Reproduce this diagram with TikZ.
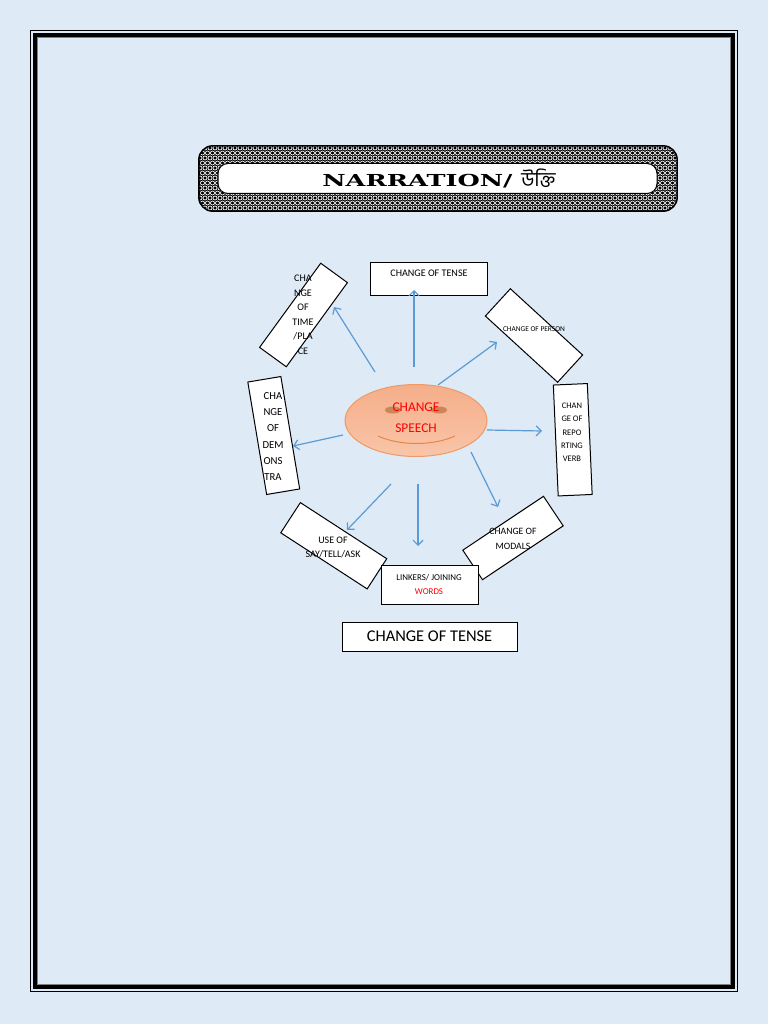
\documentclass[tikz,border=0pt]{standalone}
\usepackage{fontspec}
\setmainfont{Carlito}
\newfontfamily\titlefont[FakeStretch=1.55]{DejaVu Serif}
\newfontfamily\bengfont[Script=Bengali]{Hind Siliguri}
\newcommand{\fsz}[2]{\fontsize{#1}{#2}\selectfont}
\usetikzlibrary{shapes.geometric,arrows.meta}

\begin{document}
\begin{tikzpicture}[x=1pt,y=-1pt,
  box/.style={draw=black,fill=white,line width=1pt,inner sep=0pt},
  lbl/.style={inner sep=0pt,align=center,text=black},
  spoke/.style={draw=arrowblue,line width=1.2pt,-{Straight Barb[length=5pt,width=10pt]}}]
\definecolor{pagebg}{HTML}{DEEAF6}
\definecolor{arrowblue}{HTML}{5B9BD5}
\definecolor{facetop}{HTML}{F5AE8A}
\definecolor{facebot}{HTML}{F9C5A8}
\definecolor{facering}{HTML}{EE9A66}
\definecolor{eyebrown}{HTML}{C07A4A}
\definecolor{smileline}{HTML}{E5874A}
\fill[pagebg] (0,0) rectangle (768,1024);
\useasboundingbox (0,0) rectangle (768,1024);
\draw[line width=1pt] (30.5,30.5) rectangle (737.5,991.5);
\draw[line width=4pt] (34.7,34.7) rectangle (733.3,987.3);
\draw[gray,line width=0.8pt] (37.3,37.3) rectangle (730.7,984.7);

\node[fill=black,rounded corners=14pt,minimum width=478,minimum height=65,inner sep=0pt] (banner) at (438,178.5) {};
\begin{scope}
\clip[rounded corners=14pt] (banner.south west) rectangle (banner.north east);
\foreach \i in {0,...,96}
  {\foreach \j in {0,...,13}
    {\draw[white,line width=0.7pt] ({200+5*\i+2.5*mod(\j,2)},{148+5*\j}) circle (2);}}
\end{scope}
\draw[line width=1.5pt,rounded corners=14pt] (banner.south west) rectangle (banner.north east);
\node[fill=white,draw=black,line width=1pt,rounded corners=10pt,minimum width=439,minimum height=30,inner sep=0pt] (titlebox) at (437.5,178.5) {};
\node[inner sep=0pt] (title) at (439,178) {{\titlefont\bfseries\fsz{16.5}{20}NARRATION/ }{\bengfont\fsz{20}{20}উক্তি}};

\foreach \nm/\px/\py/\w/\h/\r in {tensebox/428.5/278.5/117/33/0, personbox/534/335.5/98/37/-42.5,
  timebox/303.5/315/104/33/54, demobox/273.75/435.5/33.5/114/9.5, verbbox/572.75/439.75/34/111/2.5,
  saybox/333.75/545.75/103/36/-33, modalbox/513/538/97/35.5/33.7, linkbox/429.5/584.5/97/39/0}
  {\node[box,minimum width=\w,minimum height=\h,rotate=\r] (\nm) at (\px,\py) {};}

\node[lbl,font=\fsz{10.1}{12}] (tensetxt) at (429,273) {CHANGE OF TENSE};
\node[lbl,font=\fsz{7.4}{9}] (persontxt) at (534,329) {CHANGE OF PERSON};
\node[lbl,font=\fsz{10.1}{14.5}] (timetxt) at (303,315) {CHA\\NGE\\OF\\TIME\\/PLA\\CE};
\node[lbl,font=\fsz{10.7}{16.2}] (demotxt) at (273,436.5) {CHA\\NGE\\OF\\DEM\\ONS\\TRA};
\node[lbl,font=\fsz{8.5}{13.3}] (verbtxt) at (572,432.5) {CHAN\\GE OF\\REPO\\RTING\\VERB};
\node[lbl,font=\fsz{10}{14}] (saytxt) at (333,547) {USE OF\\SAY/TELL/ASK};
\node[lbl,font=\fsz{9.7}{14.5}] (modaltxt) at (513,539) {CHANGE OF\\MODALS};
\node[lbl,font=\fsz{8.9}{14}] (linktxt) at (429,584) {LINKERS/ JOINING\\\textcolor{red}{WORDS}};

\node[ellipse,draw=facering,line width=1pt,top color=facetop,bottom color=facebot,minimum width=142,minimum height=72,inner sep=0pt] (speech) at (416,420.5) {};
\node[ellipse,fill=eyebrown,fill opacity=0.8,minimum width=16,minimum height=7,inner sep=0pt] (leye) at (393,410) {};
\node[ellipse,fill=eyebrown,fill opacity=0.8,minimum width=16,minimum height=7,inner sep=0pt] (reye) at (439,410) {};
\draw[smileline,line width=1pt] (378,436) .. controls (400,446) and (433,446) .. (455,436);
\node[lbl,text=red,font=\fsz{13.4}{21}] (speechtxt) at (416,417.5) {CHANGE\\SPEECH};

\foreach \nm/\sx/\sy/\ex/\ey in {up/414/367/414/290, ur/438/385/497/342, ul/375/372/334/307,
  lf/343/435/293/446, rt/487/430/542/431, dr/471/452/498/507, dn/418/484/418/546, dl/391/484/347/530}
  {\coordinate (\nm s) at (\sx,\sy);
   \coordinate (\nm e) at (\ex,\ey);
   \draw[spoke] (\nm s) -- (\nm e);}

\node[box,minimum width=175,minimum height=29,font=\fsz{16.4}{18},text=black] (summary) at (429.5,636.5) {CHANGE OF TENSE};
\end{tikzpicture}
\end{document}
